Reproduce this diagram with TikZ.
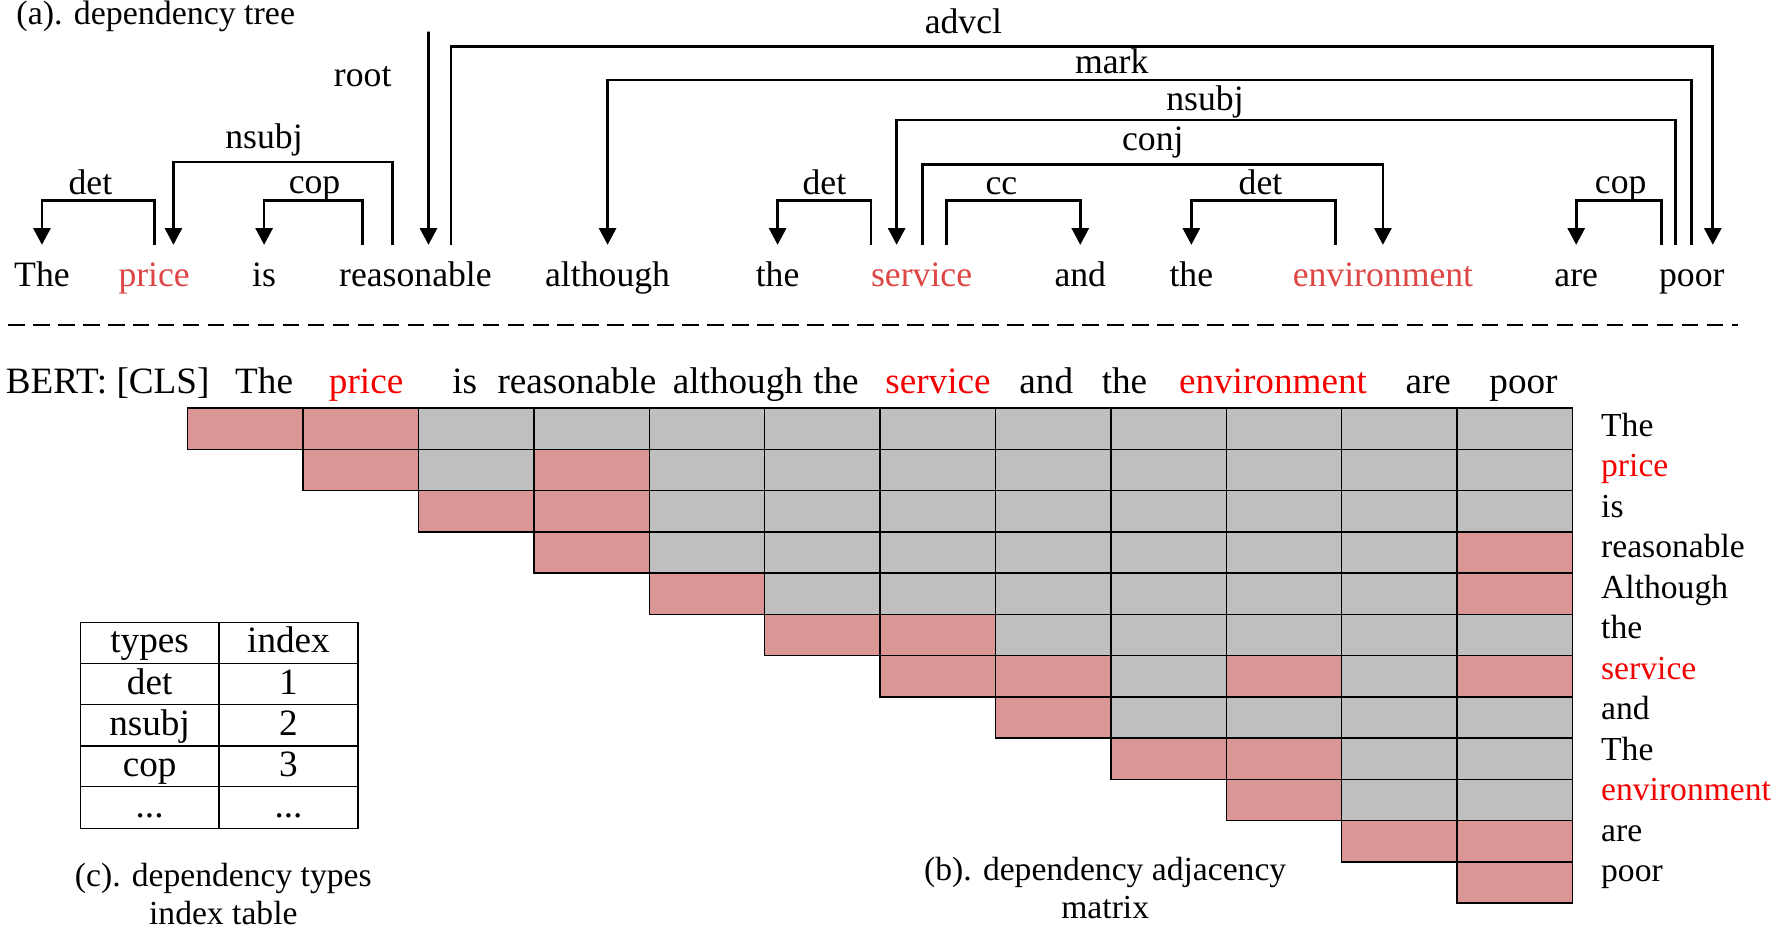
\documentclass[tikz,border=0pt]{standalone}
\usepackage{fontspec}
\setmainfont{Liberation Serif}
\usetikzlibrary{arrows.meta}

\definecolor{wordred}{RGB}{222,70,70}
\definecolor{tokred}{RGB}{245,0,0}
\definecolor{cellpink}{RGB}{217,150,148}
\definecolor{cellgray}{RGB}{191,191,191}

\tikzset{
	word/.style		= {font=\fontsize{12}{14}\selectfont, inner sep=0pt, anchor=base},
	lab/.style		= {font=\fontsize{12}{14}\selectfont, above, inner sep=1.5pt},
	dep/.style		= {line width=0.9pt, -{Triangle[width=5.7pt, length=5.6pt]}},
	tok/.style		= {font=\fontsize{12.5}{15}\selectfont, inner sep=0pt, anchor=base},
	rowlab/.style	= {font=\fontsize{11.3}{13}\selectfont, inner sep=0pt, anchor=base west},
	cell/.style		= {draw=black, line width=0.5pt},
	captext/.style	= {font=\fontsize{11.3}{12.8}\selectfont, align=center, inner sep=0pt}
}

\begin{document}
\begin{tikzpicture}[x=0.0134cm, y=-0.0134cm]
\useasboundingbox (0,0) rectangle (1565,820.4);

% (a) dependency tree
\node[anchor=base west, inner sep=0pt, font=\fontsize{11.4}{13}\selectfont] (title_a) at (14,22) {(a). dependency tree};

\path	(37, 253)		node(the_a)			[word]					{The}
		(136, 253)		node(price)			[word, text=wordred]	{price}
		(233, 253)		node(is)			[word]					{is}
		(366.5, 253)	node(reasonable)	[word]					{reasonable}
		(536, 253)		node(although)		[word]					{although}
		(686, 253)		node(the_b)			[word]					{the}
		(813, 253)		node(service)		[word, text=wordred]	{service}
		(953, 253)		node(and)			[word]					{and}
		(1051, 253)		node(the_c)			[word]					{the}
		(1220, 253)		node(environment)	[word, text=wordred]	{environment}
		(1390.5, 253)	node(are)			[word]					{are}
		(1492.5, 253)	node(poor)			[word]					{poor};

\coordinate (root_top) at (378, 28);

\draw[dep]	(root_top)									-- node[pos=.213, left=12pt, inner sep=0pt, font=\fontsize{12}{14}\selectfont] {root}	([shift={(11.5,-37)}]reasonable.base);
\draw[dep]	([shift={(0,-37)}]price.base)				-- ++(0,-39)		-| node[lab, pos=.284]					{det}	([shift={(0,-37)}]the_a.base);
\draw[dep]	([shift={(-20.5,-37)}]reasonable.base)		-- ++(0,-73)		-| node[lab, pos=.293]					{nsubj}	([shift={(17,-37)}]price.base);
\draw[dep]	([shift={(-47,-37)}]reasonable.base)		-- ++(0,-39)		-| node[lab, pos=.243, yshift=-2pt]		{cop}	([shift={(0,-37)}]is.base);
\draw[dep]	([shift={(31.5,-37)}]reasonable.base)		-- ++(0,-175)		-| node[lab, pos=.203, yshift=2.3pt]	{advcl}	([shift={(18.5,-37)}]poor.base);
\draw[dep]	([shift={(0,-37)}]poor.base)				-- ++(0,-145.4)		-| node[lab, pos=.2675]					{mark}	([shift={(0,-37)}]although.base);
\draw[dep]	([shift={(-14.5,-37)}]poor.base)			-- ++(0,-110)		-| node[lab, pos=.302, yshift=-1.3pt]	{nsubj}	([shift={(-22,-37)}]service.base);
\draw[dep]	([shift={(1,-37)}]service.base)				-- ++(0,-71)		-| node[lab, pos=.25]					{conj}	([shift={(0,-37)}]environment.base);
\draw[dep]	([shift={(-44.5,-37)}]service.base)			-- ++(0,-39)		-| node[lab, pos=.25]					{det}	([shift={(0,-37)}]the_b.base);
\draw[dep]	([shift={(22,-37)}]service.base)			-- ++(0,-39)		-| node[lab, pos=.205]					{cc}	([shift={(0,-37)}]and.base);
\draw[dep]	([shift={(-42,-37)}]environment.base)		-- ++(0,-39)		-| node[lab, pos=.26]					{det}	([shift={(0,-37)}]the_c.base);
\draw[dep]	([shift={(-26.5,-37)}]poor.base)			-- ++(0,-39)		-| node[lab, pos=.24, yshift=-2pt]		{cop}	([shift={(0,-37)}]are.base);

% separator
\draw[line width=0.7pt, dash pattern=on 5.6pt off 2.8pt] (7, 287) -- (1533, 287);

% (b) BERT tokens and adjacency matrix
\path	(95, 347)		node(tok_cls)			[tok]					{BERT: [CLS]}
		(233, 347)		node(tok_the_a)			[tok]					{The}
		(323, 347)		node(tok_price)			[tok, text=tokred]		{price}
		(410, 347)		node(tok_is)			[tok]					{is}
		(509, 347)		node(tok_reasonable)	[tok]					{reasonable}
		(651, 347)		node(tok_although)		[tok]					{although}
		(737.5, 347)	node(tok_the_b)			[tok]					{the}
		(827.5, 347)	node(tok_service)		[tok, text=tokred]		{service}
		(923, 347)		node(tok_and)			[tok]					{and}
		(992, 347)		node(tok_the_c)			[tok]					{the}
		(1123, 347)		node(tok_environment)	[tok, text=tokred]		{environment}
		(1260, 347)		node(tok_are)			[tok]					{are}
		(1344, 347)		node(tok_poor)			[tok]					{poor};

\foreach \r in {0,...,11}
	\foreach \c in {\r,...,11}
		\draw[cell, fill=cellgray] (165.6+101.8*\c, 360+36.4*\r) rectangle ++(101.8, 36.4);

\foreach \r/\c in {0/0, 0/1, 1/1, 1/3, 2/2, 2/3, 3/3, 3/11, 4/4, 4/11, 5/5, 5/6, 6/6, 6/7, 6/9, 6/11, 7/7, 8/8, 8/9, 9/9, 10/10, 10/11, 11/11}
	\draw[cell, fill=cellpink] (165.6+101.8*\c, 360+36.4*\r) rectangle ++(101.8, 36.4);

\path	(1412, 385)		node(row_the_a)			[rowlab]					{The}
		(1412, 420.7)	node(row_price)			[rowlab, text=tokred]		{price}
		(1412, 456.4)	node(row_is)			[rowlab]					{is}
		(1412, 492.1)	node(row_reasonable)	[rowlab]					{reasonable}
		(1412, 527.8)	node(row_although)		[rowlab]					{Although}
		(1412, 563.5)	node(row_the_b)			[rowlab]					{the}
		(1412, 599.2)	node(row_service)		[rowlab, text=tokred]		{service}
		(1412, 634.9)	node(row_and)			[rowlab]					{and}
		(1412, 670.6)	node(row_the_c)			[rowlab]					{The}
		(1412, 706.3)	node(row_environment)	[rowlab, text=tokred]		{environment}
		(1412, 742)		node(row_are)			[rowlab]					{are}
		(1412, 777.7)	node(row_poor)			[rowlab]					{poor};

\node[captext] (cap_b) at (975, 783) {(b). dependency adjacency\\matrix};

% (c) dependency types index table
\draw[line width=0.5pt] (71, 549) rectangle (316, 731);
\draw[line width=0.5pt] (193, 549) -- (193, 731);
\foreach \y in {585.5, 621.5, 658, 694}
	\draw[line width=0.5pt] (71, \y) -- (316, \y);

\path	(132, 576)		node(types_head)	[tok]	{types}
		(254.5, 576)	node(index_head)	[tok]	{index}
		(132, 612.5)	node(types_det)		[tok]	{det}
		(254.5, 612.5)	node(index_det)		[tok]	{1}
		(132, 648.5)	node(types_nsubj)	[tok]	{nsubj}
		(254.5, 648.5)	node(index_nsubj)	[tok]	{2}
		(132, 685)		node(types_cop)		[tok]	{cop}
		(254.5, 685)	node(index_cop)		[tok]	{3}
		(132, 721)		node(types_more)	[tok]	{...}
		(254.5, 721)	node(index_more)	[tok]	{...};

\node[captext] (cap_c) at (197, 789) {(c). dependency types\\index table};
\end{tikzpicture}
\end{document}
